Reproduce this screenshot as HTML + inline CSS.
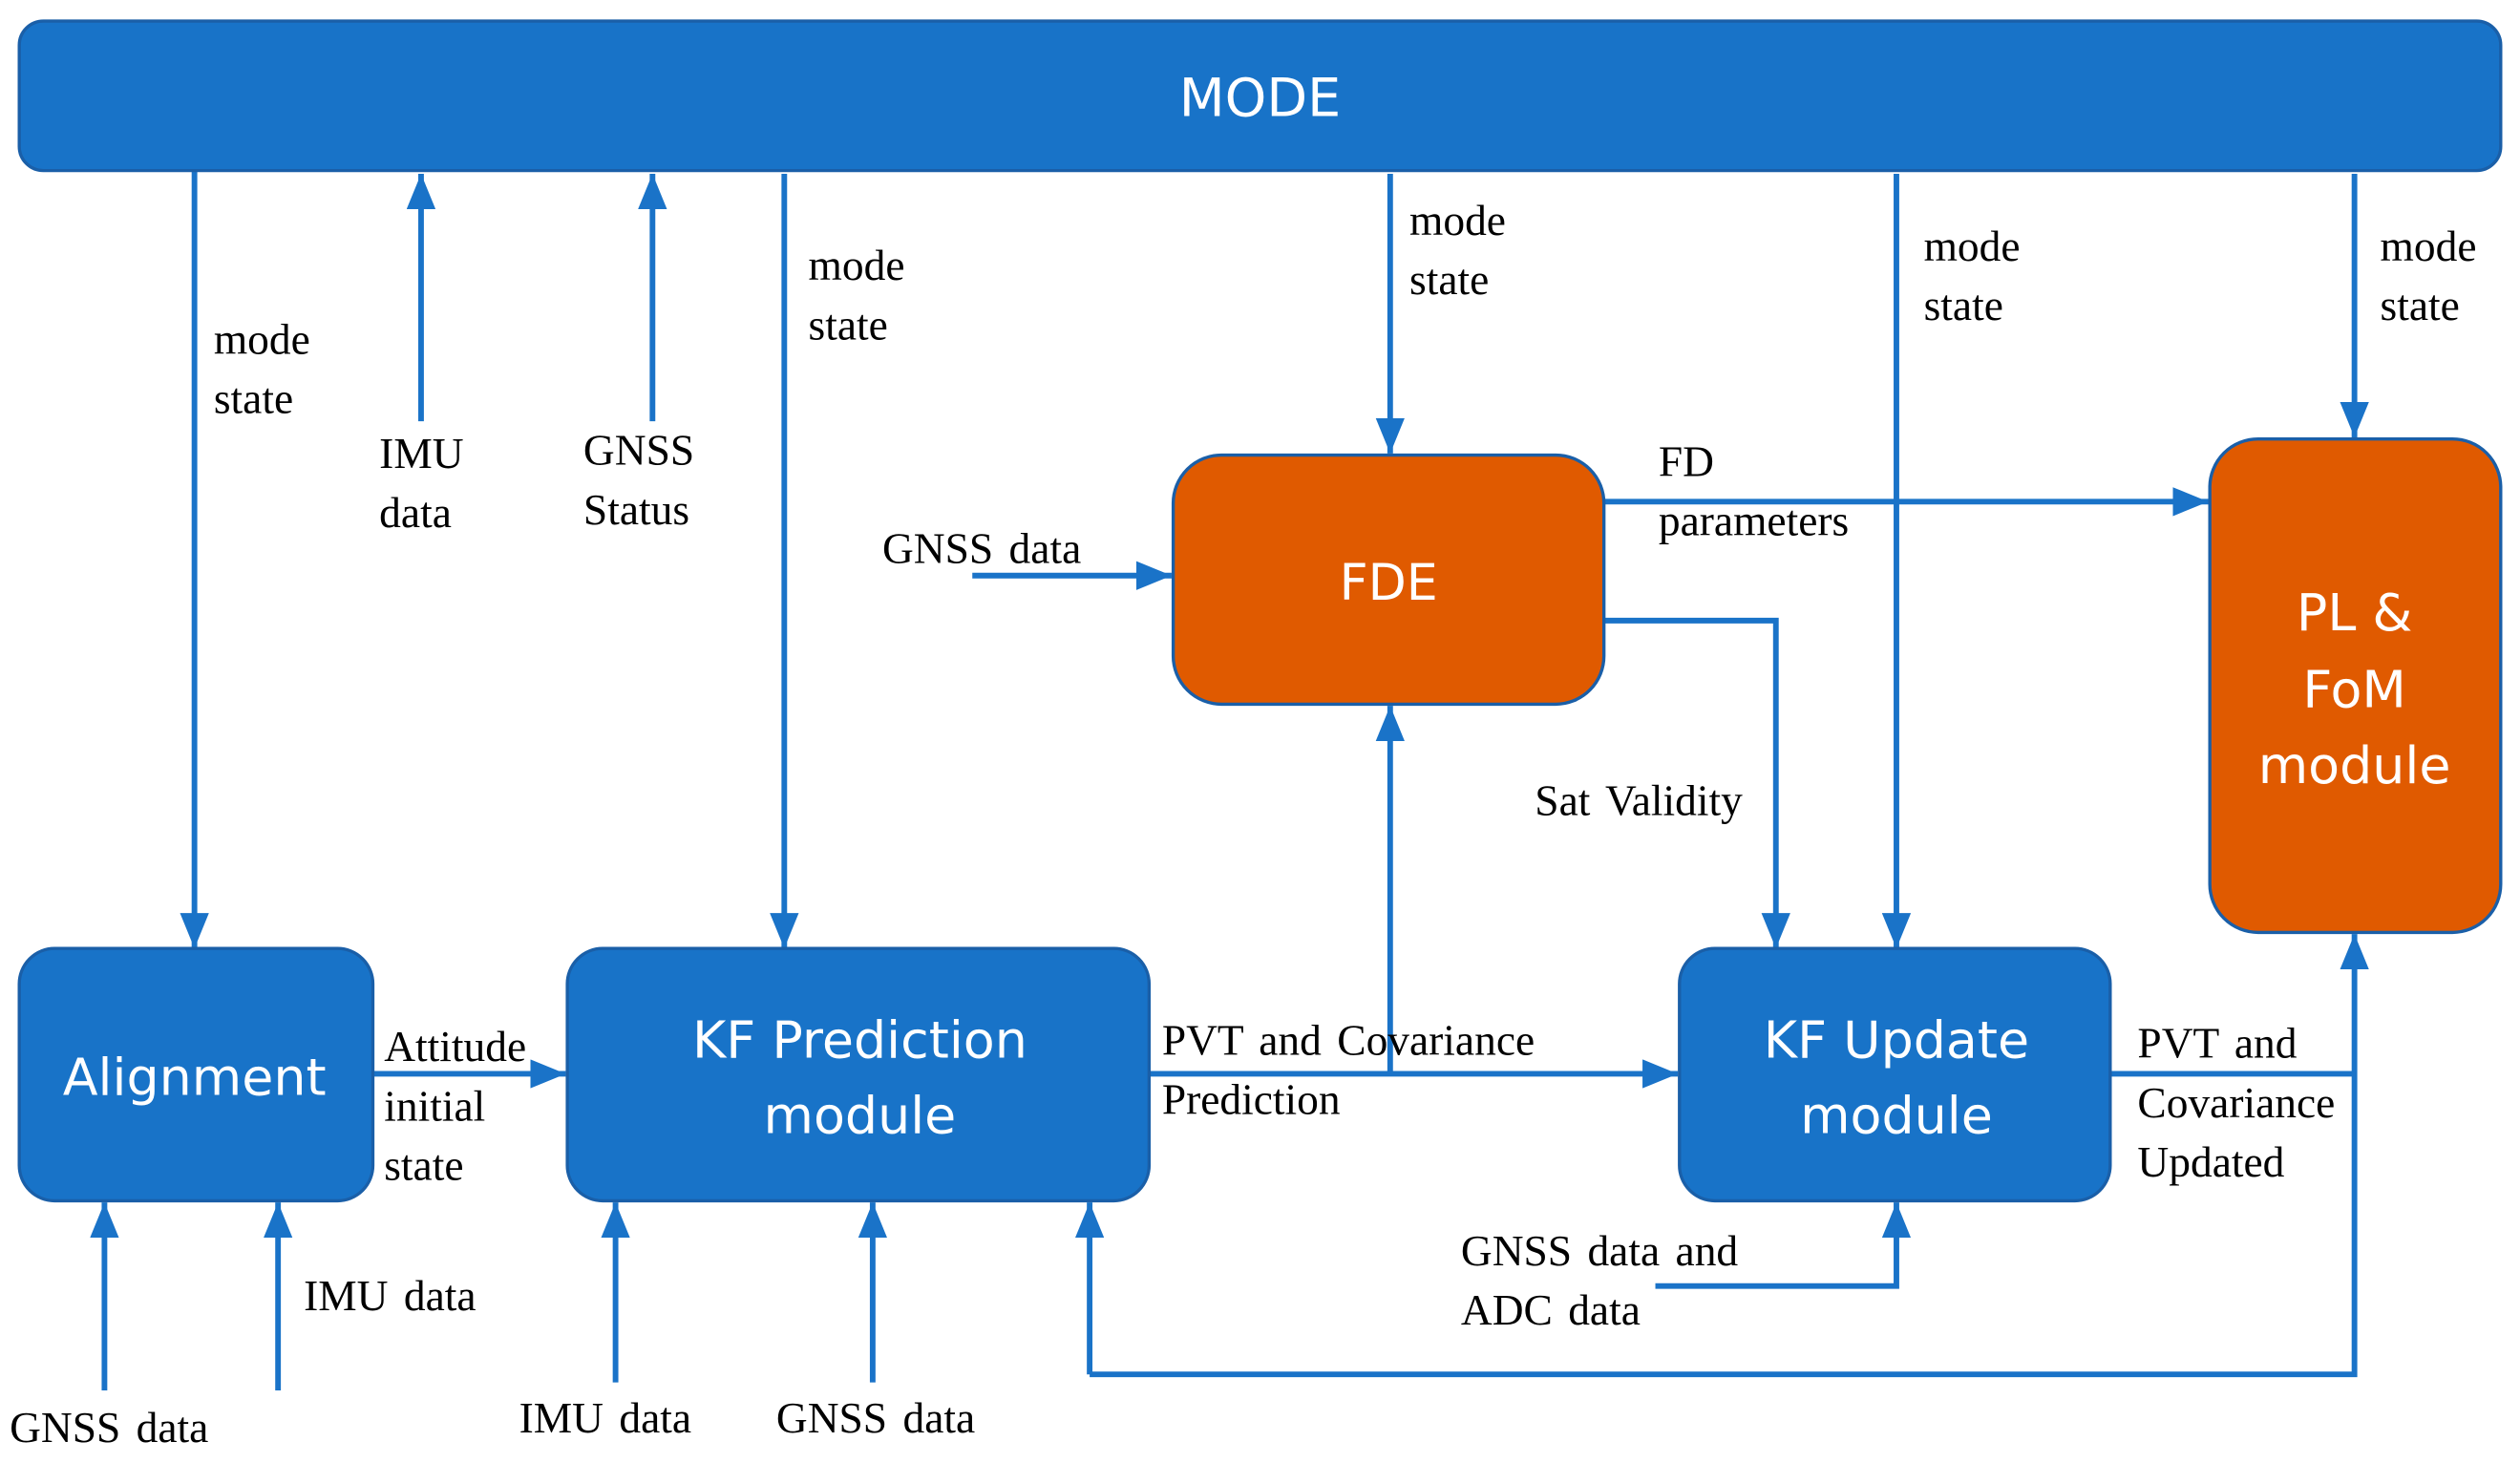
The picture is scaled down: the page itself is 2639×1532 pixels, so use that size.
<!DOCTYPE html>
<html><head><style>
html,body{margin:0;padding:0;background:#fff;}
svg{display:block;}
.t{font-family:"Liberation Serif",serif;font-size:27px;fill:#000;word-spacing:3px;}
.b{font-family:"DejaVu Sans","Liberation Sans",sans-serif;fill:#fff;text-anchor:middle;}
</style></head><body>
<svg width="2639" height="1532" viewBox="0 0 1568 910" xmlns="http://www.w3.org/2000/svg">
<defs>
<marker id="a" viewBox="0 0 22 18" refX="22" refY="9" markerWidth="22" markerHeight="18" orient="auto" markerUnits="userSpaceOnUse">
<path d="M0,0 L22,9 L0,18 z" fill="#1a73c8"/>
</marker>
</defs>
<g fill="none" stroke="#1a73c8" stroke-width="3.5">
<path d="M121 106 V590" marker-end="url(#a)"/>
<path d="M262 262 V108" marker-end="url(#a)"/>
<path d="M406 262 V108" marker-end="url(#a)"/>
<path d="M488 108 V590" marker-end="url(#a)"/>
<path d="M865 108 V282" marker-end="url(#a)"/>
<path d="M1180 108 V590" marker-end="url(#a)"/>
<path d="M1465 108 V272" marker-end="url(#a)"/>
<path d="M998 312 H1374" marker-end="url(#a)"/>
<path d="M998 386 H1105 V590" marker-end="url(#a)"/>
<path d="M605 358 H729" marker-end="url(#a)"/>
<path d="M865 668 V439" marker-end="url(#a)"/>
<path d="M715 668 H1044" marker-end="url(#a)"/>
<path d="M232 668 H352" marker-end="url(#a)"/>
<path d="M1313 668 H1465"/>
<path d="M678 855 H1465 V581" marker-end="url(#a)"/>
<path d="M678 855 V748" marker-end="url(#a)"/>
<path d="M1030 800 H1180 V748" marker-end="url(#a)"/>
<path d="M65 865 V748" marker-end="url(#a)"/>
<path d="M173 865 V748" marker-end="url(#a)"/>
<path d="M383 860 V748" marker-end="url(#a)"/>
<path d="M543 860 V748" marker-end="url(#a)"/>
</g>
<g stroke="#1a5fa8" stroke-width="2">
<rect x="12" y="13" width="1544" height="93" rx="15" fill="#1873c8"/>
<rect x="12" y="590" width="220" height="157" rx="22" fill="#1873c8"/>
<rect x="353" y="590" width="362" height="157" rx="22" fill="#1873c8"/>
<rect x="1045" y="590" width="268" height="157" rx="22" fill="#1873c8"/>
<rect x="730" y="283" width="268" height="155" rx="30" fill="#e05a00"/>
<rect x="1375" y="273" width="181" height="307" rx="30" fill="#e05a00"/>
</g>
<text class="b" x="784" y="72" font-size="33">MODE</text>
<text class="b" x="121" y="681" font-size="32">Alignment</text>
<text class="b" x="535" y="658" font-size="32">KF Prediction</text>
<text class="b" x="535" y="705" font-size="32">module</text>
<text class="b" x="1180" y="658" font-size="32">KF Update</text>
<text class="b" x="1180" y="705" font-size="32">module</text>
<text class="b" x="864" y="373" font-size="31">FDE</text>
<text class="b" x="1465" y="392" font-size="32">PL &amp;</text>
<text class="b" x="1465" y="440" font-size="32">FoM</text>
<text class="b" x="1465" y="487" font-size="32">module</text>
<g class="t">
<text x="133" y="220">mode</text><text x="133" y="257">state</text>
<text x="236" y="291">IMU</text><text x="236" y="328">data</text>
<text x="363" y="289">GNSS</text><text x="363" y="326">Status</text>
<text x="503" y="174">mode</text><text x="503" y="211">state</text>
<text x="877" y="146">mode</text><text x="877" y="183">state</text>
<text x="1197" y="162">mode</text><text x="1197" y="199">state</text>
<text x="1481" y="162">mode</text><text x="1481" y="199">state</text>
<text x="1032" y="296">FD</text><text x="1032" y="333">parameters</text>
<text x="549" y="350">GNSS data</text>
<text x="955" y="507">Sat Validity</text>
<text x="239" y="660">Attitude</text><text x="239" y="697">initial</text><text x="239" y="734">state</text>
<text x="723" y="656">PVT and Covariance</text><text x="723" y="693">Prediction</text>
<text x="1330" y="658">PVT and</text><text x="1330" y="695">Covariance</text><text x="1330" y="732">Updated</text>
<text x="909" y="787">GNSS data and</text><text x="909" y="824">ADC data</text>
<text x="189" y="815">IMU data</text>
<text x="6" y="897">GNSS data</text>
<text x="323" y="891">IMU data</text>
<text x="483" y="891">GNSS data</text>
</g>
</svg>
</body></html>
